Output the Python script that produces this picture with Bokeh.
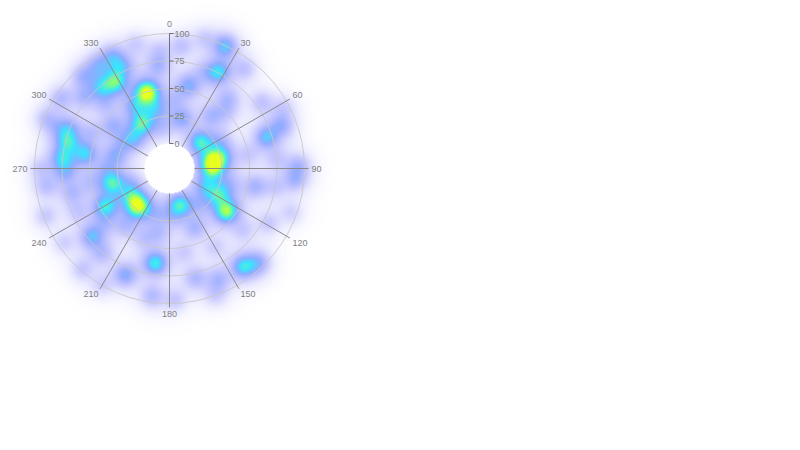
import numpy as np
from bokeh.plotting import figure
from bokeh.models import Range1d
from bokeh.core.properties import value
from bokeh.embed import file_html
from bokeh.resources import INLINE

# ---- data: heat points (angle in degrees clockwise from top, radius value 0-100, weight)
hot_angle = [343.7, 328, 320, 335, 333, 328.6, 310, 284.4, 280, 275, 291.5, 310, 303, 331.6,
             325, 317, 292, 283.5, 307, 354, 346.8,
             24.5, 27, 12.9, 13.9, 49.4, 81.9, 76, 92.7, 72.2, 69, 37.2, 5.6, 54.3, 40.2, 38.4, 88.7,
             218.9, 255.6, 239.3, 233.1, 188.4, 228.7, 202.5, 255.8, 261.7, 249, 187.7, 218.5,
             220.8, 217.2, 267.4, 189.4,
             163.6, 126.9, 118.2, 143, 136.8, 101.9, 95, 156.7, 166.8, 156.2, 118.9, 177.5, 116.8]
hot_radius = [49.5, 70, 73, 80, 92, 25, 19.5, 73, 55, 75, 75.5, 78.6, 95, 42,
              91.6, 92, 98, 27.7, 42, 71.5, 33,
              99.5, 75.5, 54.7, 23.8, 14, 17.7, 26, 15.5, 70, 86.6, 91, 89.6, 80.5, 60, 38.7, 94.5,
              21.7, 31, 45, 19.6, 64.3, 71, 82, 68.5, 91, 98, 94.7, 75.5,
              98.6, 43.5, 71.9, 37,
              11.7, 42.4, 27.8, 89, 95, 57, 92, 36.4, 79.7, 87.8, 80, 96.7, 13.6]
hot_weight = [5.0, 3.1, 2.0, 1.8, 1.7, 3.1, 1.8, 2.4, 2.5, 2.4, 1.6, 1.3, 1.4, 1.6,
              1.5, 1.5, 1.2, 1.7, 1.5, 1.5, 1.5,
              2.7, 2.9, 2.2, 2.0, 3.1, 4.4, 1.8, 1.6, 2.6, 1.8, 1.2, 1.2, 1.2, 1.3, 1.4, 1.5,
              4.5, 3.1, 3.0, 2.1, 3.4, 2.4, 2.3, 1.3, 1.2, 1.1, 1.5, 1.3,
              1.1, 1.1, 1.4, 1.1,
              3.2, 4.2, 2.5, 3.0, 1.9, 1.7, 1.6, 1.5, 1.5, 1.5, 1.1, 1.1, 1.7]

haze_angle = [5, 20, 45, 60, 62, 80, 85, 105, 110, 130, 140, 150, 170, 175, 195, 200, 210,
              235, 245, 260, 270, 270, 295, 300, 315, 345, 350, 355, 15, 100, 160, 230, 250, 290]
haze_radius = [40, 70, 50, 30, 95, 50, 75, 35, 95, 65, 20, 60, 55, 20, 20, 45, 100,
               95, 70, 50, 95, 35, 55, 25, 60, 95, 15, 85, 100, 75, 100, 55, 15, 85]
haze_weight = [0.9] * len(haze_angle)

angle_ticks = [0, 30, 60, 90, 120, 150, 180, 210, 240, 270, 300, 330]
radial_ticks = [0, 25, 50, 75, 100]

# ---- geometry (1 data unit = 1 screen pixel)
R0 = 25.0      # inner hole radius
K = 1.1        # pixels per radial unit
W, H = 340, 340
X0, Y0 = -169, 168 - H


def pol(a_deg, v):
    a = np.radians(np.asarray(a_deg, dtype=float))
    r = R0 + K * np.asarray(v, dtype=float)
    return r * np.sin(a), r * np.cos(a)


# ---- heat image
pa = np.array(hot_angle + haze_angle)
pr = np.array(hot_radius + haze_radius)
pw = np.array(hot_weight + haze_weight)
px, py = pol(pa, pr)

xs = np.arange(X0, X0 + W) + 0.5
ys = np.arange(Y0, Y0 + H) + 0.5
GX, GY = np.meshgrid(xs, ys)
I = np.zeros_like(GX)
for x0, y0, w0 in zip(px, py, pw):
    d2 = (GX - x0) ** 2 + (GY - y0) ** 2
    I += w0 * (0.72 * np.exp(-d2 / (2 * 7.5 ** 2)) + 0.28 * np.exp(-d2 / (2 * 14.0 ** 2)))

t = np.clip(I / 5.2, 0, 1)
st = [0.0, 0.22, 0.45, 0.64, 0.84, 1.0]
cr = [100, 100, 80, 20, 130, 230]
cg = [100, 100, 120, 225, 255, 255]
cb = [255, 255, 255, 255, 110, 30]
ca = [0.0, 0.34, 0.62, 0.85, 0.95, 1.0]
R = np.interp(t, st, cr)
G = np.interp(t, st, cg)
B = np.interp(t, st, cb)
A = np.interp(t, st, ca)
A[np.hypot(GX, GY) < R0] = 0.0

img = np.empty(GX.shape, dtype=np.uint32)
view = img.view(dtype=np.uint8).reshape(GX.shape + (4,))
view[..., 0] = R.astype(np.uint8)
view[..., 1] = G.astype(np.uint8)
view[..., 2] = B.astype(np.uint8)
view[..., 3] = (A * 255).astype(np.uint8)

p = figure(width=W, height=H, output_backend="svg", toolbar_location=None,
           x_range=Range1d(X0, X0 + W), y_range=Range1d(Y0, Y0 + H), min_border=0)
p.axis.visible = False
p.grid.visible = False
p.outline_line_color = None
p.background_fill_color = "white"

p.image_rgba(image=[img], x=X0, y=Y0, dw=W, dh=H)

# grid circles
p.circle(x=[0] * 4, y=[0] * 4, radius=[R0 + K * v for v in radial_ticks[1:]],
         fill_color=None, line_color="#c8c8c8", line_width=1, line_alpha=0.9)

# spokes
sp = [a for a in angle_ticks if a != 0]
sx0, sy0 = pol(sp, [0] * len(sp))
sx1, sy1 = pol(sp, [(139 - R0) / K] * len(sp))
p.segment(x0=sx0, y0=sy0, x1=sx1, y1=sy1, line_color="#8a8a8a", line_width=1)

# radial axis
ax0, ay0 = pol(0, radial_ticks[0])
ax1, ay1 = pol(0, radial_ticks[-1])
p.segment(x0=[ax0], y0=[ay0], x1=[ax1], y1=[ay1], line_color="#6e7079", line_width=1)
tx, ty = pol([0] * len(radial_ticks), radial_ticks)
p.segment(x0=tx, y0=ty, x1=tx + 4, y1=ty, line_color="#6e7079", line_width=1)
p.text(x=tx + 5, y=ty, text=[str(v) for v in radial_ticks], text_font=value("Liberation Sans"),
       text_font_size="9px", text_color="#808080", text_align="left", text_baseline="middle")

# angle labels
ra = 142.0
for a in angle_ticks:
    s, c = np.sin(np.radians(a)), np.cos(np.radians(a))
    align = "left" if s > 0.1 else ("right" if s < -0.1 else "center")
    base = "bottom" if c > 0.1 else ("top" if c < -0.1 else "middle")
    p.text(x=[ra * s], y=[ra * c], text=[str(a)], text_font=value("Liberation Sans"),
           text_font_size="9px", text_color="#808080", text_align=align, text_baseline=base)

open("out.html", "w").write(file_html(p, INLINE))
